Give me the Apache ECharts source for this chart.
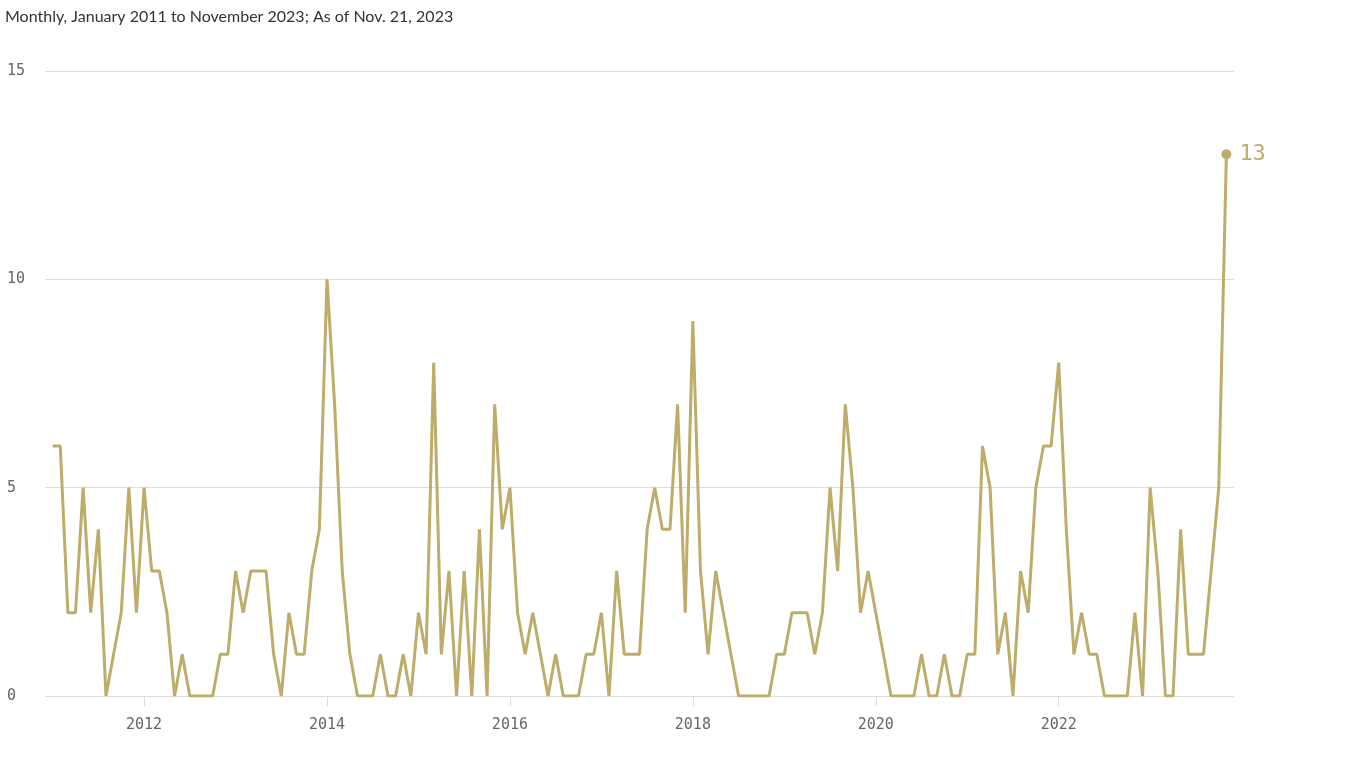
<!DOCTYPE html>
<html lang="en">
<head>
    <meta charset="UTF-8">
    <title>Monthly</title>
    <style>
        html, body { margin: 0; padding: 0; background: #fff; }
        #chart { width: 1366px; height: 768px; }
    </style>
    <script src="https://cdn.jsdelivr.net/npm/echarts@6/dist/echarts.min.js"></script>
</head>
<body>
    <div id="chart"></div>
    <script>
        // monthly counts, Jan 2011 .. Nov 2023
        var startYear = 2011;
        var values = [
            6, 6, 2, 2, 5, 2, 4, 0, 1, 2, 5, 2,   // 2011
            5, 3, 3, 2, 0, 1, 0, 0, 0, 0, 1, 1,   // 2012
            3, 2, 3, 3, 3, 1, 0, 2, 1, 1, 3, 4,   // 2013
            10, 7, 3, 1, 0, 0, 0, 1, 0, 0, 1, 0,  // 2014
            2, 1, 8, 1, 3, 0, 3, 0, 4, 0, 7, 4,   // 2015
            5, 2, 1, 2, 1, 0, 1, 0, 0, 0, 1, 1,   // 2016
            2, 0, 3, 1, 1, 1, 4, 5, 4, 4, 7, 2,   // 2017
            9, 3, 1, 3, 2, 1, 0, 0, 0, 0, 0, 1,   // 2018
            1, 2, 2, 2, 1, 2, 5, 3, 7, 5, 2, 3,   // 2019
            2, 1, 0, 0, 0, 0, 1, 0, 0, 1, 0, 0,   // 2020
            1, 1, 6, 5, 1, 2, 0, 3, 2, 5, 6, 6,   // 2021
            8, 4, 1, 2, 1, 1, 0, 0, 0, 0, 2, 0,   // 2022
            5, 3, 0, 0, 4, 1, 1, 1, 3, 5, 13      // 2023
        ];
        var yearTicks = [2012, 2014, 2016, 2018, 2020, 2022];
        var yTicks = [0, 5, 10, 15];

        var data = values.map(function (v, i) { return [i, v]; });
        var tickPos = yearTicks.map(function (y) { return (y - startYear) * 12; });
        var last = data[data.length - 1];

        var mono = '"DejaVu Sans Mono", monospace';
        var gold = '#bdac6a';

        echarts.init(document.getElementById('chart')).setOption({
            animation: false,
            title: {
                text: 'Monthly, January 2011 to November 2023; As of Nov. 21, 2023',
                left: 0,
                top: 4,
                textStyle: {
                    color: '#333',
                    fontSize: 16,
                    fontWeight: 'normal',
                    fontFamily: 'Lato, "Noto Sans", sans-serif'
                }
            },
            grid: {
                left: 45,
                right: 132,
                top: 71,
                bottom: 72
            },
            xAxis: {
                type: 'value',
                min: -1,
                max: 155,
                axisLine: { show: false },
                splitLine: { show: false },
                axisTick: {
                    show: true,
                    customValues: tickPos,
                    length: 10,
                    lineStyle: { color: '#ddd' }
                },
                axisLabel: {
                    customValues: tickPos,
                    margin: 22,
                    color: '#666',
                    fontSize: 15,
                    fontFamily: mono,
                    formatter: function (v) { return String(startYear + v / 12); }
                }
            },
            yAxis: {
                type: 'value',
                min: 0,
                max: 15,
                interval: 5,
                axisLine: { show: false },
                axisTick: { show: false },
                splitLine: { lineStyle: { color: '#ddd', width: 1 } },
                axisLabel: {
                    align: 'left',
                    margin: 38,
                    color: '#666',
                    fontSize: 15,
                    fontFamily: mono
                }
            },
            series: [{
                type: 'line',
                data: data,
                showSymbol: false,
                lineStyle: { color: gold, width: 3 },
                itemStyle: { color: gold },
                markPoint: {
                    symbol: 'circle',
                    symbolSize: 10,
                    itemStyle: { color: gold },
                    label: {
                        show: true,
                        position: 'right',
                        distance: 8,
                        color: gold,
                        fontSize: 22,
                        fontFamily: mono,
                        formatter: String(last[1])
                    },
                    data: [{ coord: last }]
                }
            }]
        });
    </script>
</body>
</html>
